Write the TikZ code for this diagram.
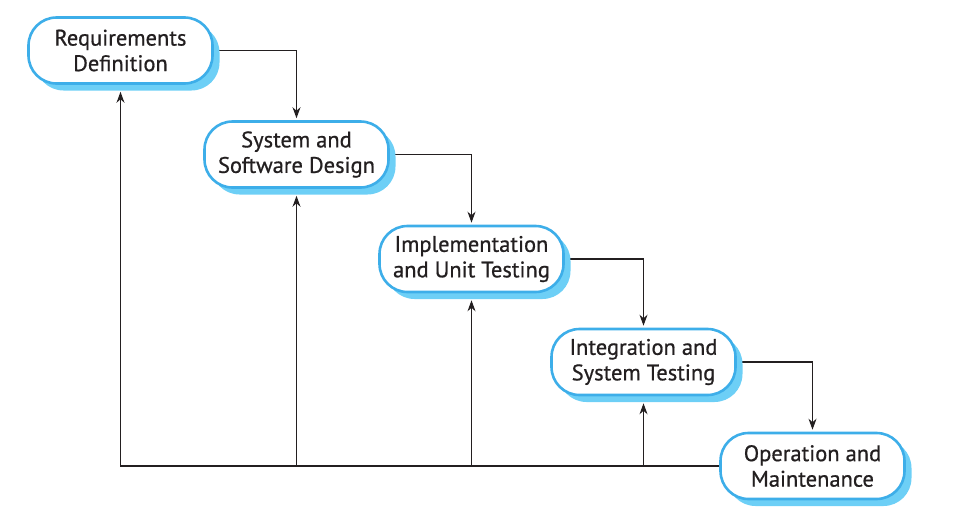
\documentclass[tikz,border=0pt]{standalone}
\usepackage{fontspec}
\setmainfont{PT Sans}
\newfontfamily\stagefont{PT Sans}[FakeBold=0.7]
\usetikzlibrary{shadows,arrows.meta,backgrounds}
\definecolor{boxblue}{HTML}{3DAEE9}
\definecolor{shadowblue}{HTML}{6DCFF6}
\definecolor{ink}{HTML}{231F20}
\tikzset{
  stage/.style={draw=boxblue, line width=2.6pt, fill=white, rounded corners=28pt,
    minimum width=184pt, minimum height=66pt, align=center, text=ink,
    font=\stagefont\fontsize{22.5}{25.5}\selectfont, inner sep=0pt,
    drop shadow={shadow xshift=7pt, shadow yshift=-7pt, fill=shadowblue, opacity=1}},
  flow/.style={draw=ink, line width=1.1pt, -{Stealth[length=11pt,width=8pt]}},
  plain/.style={draw=ink, line width=1.1pt}
}
\begin{document}
\begin{tikzpicture}[x=1pt,y=-1pt]
\useasboundingbox (0,0) rectangle (970,525);
\node[stage] (b1) at (120.5,50.5) {Requirements\\Definition};
\node[stage] (b2) at (296.5,154.5) {System and\\Software Design};
\node[stage] (b3) at (471.5,259) {Implementation\\and Unit Testing};
\node[stage] (b4) at (643.5,362) {Integration and\\System Testing};
\node[stage] (b5) at (812.5,466) {Operation and\\Maintenance};
\begin{scope}[on background layer]
\draw[flow, shorten >=2pt] (b1.east) -| (b2.north);
\draw[flow, shorten >=2pt] (b2.east) -| (b3.north);
\draw[flow, shorten >=2pt] (b3.east) -| (b4.north);
\draw[flow, shorten >=2pt] (b4.east) -| (b5.north);
\draw[flow] (b5.west) -| ([yshift=-7pt]b1.south);
\draw[flow] (b2.south |- b5.west) -- ([yshift=-7pt]b2.south);
\draw[flow] (b3.south |- b5.west) -- ([yshift=-7pt]b3.south);
\draw[flow] (b4.south |- b5.west) -- ([yshift=-7pt]b4.south);
\end{scope}
\end{tikzpicture}
\end{document}
